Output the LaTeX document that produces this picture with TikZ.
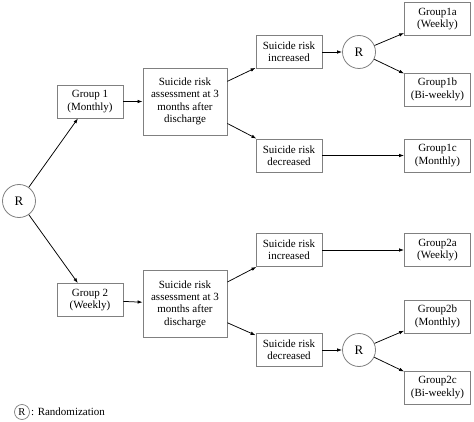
\documentclass[tikz,border=0pt]{standalone}
\usepackage{fontspec}
\setmainfont{Liberation Serif}
\usetikzlibrary{arrows.meta}

\begin{document}
\begin{tikzpicture}[x=1pt,y=-1pt,
        box/.style={draw=gray,line width=0.8pt,align=center,inner sep=0pt,
          font=\fontsize{11}{12.3}\selectfont,minimum width=66pt,minimum height=33pt},
        bigbox/.style={box,minimum width=84pt,minimum height=67pt},
        rand/.style={circle,draw=gray,line width=0.8pt,inner sep=0pt,
          minimum size=33pt,font=\fontsize{13}{15}\selectfont},
        arr/.style={-{Latex[length=5pt,width=3.5pt]},line width=0.75pt}]

        \useasboundingbox (0,0) rectangle (474,422);

        \node[rand] (r1) at (19,201) {R};

        \node[box] (g1) at (90,101.5) {Group 1\\(Monthly)};
        \node[bigbox] (a1) at (185,101.5) {Suicide risk\\assessment at 3\\months after\\discharge};
        \node[box] (inc1) at (289,52) {Suicide risk\\increased};
        \node[box] (dec1) at (289,155.5) {Suicide risk\\decreased};
        \node[rand] (r2) at (359,52) {R};
        \node[box] (g1a) at (437.5,19) {Group1a\\(Weekly)};
        \node[box] (g1b) at (437.5,89.5) {Group1b\\(Bi-weekly)};
        \node[box] (g1c) at (437.5,155.5) {Group1c\\(Monthly)};

        \node[box] (g2) at (90,300) {Group 2\\(Weekly)};
        \node[bigbox] (a2) at (185,304) {Suicide risk\\assessment at 3\\months after\\discharge};
        \node[box] (inc2) at (289,250) {Suicide risk\\increased};
        \node[box] (dec2) at (289,350) {Suicide risk\\decreased};
        \node[rand] (r3) at (359,350) {R};
        \node[box] (g2a) at (437.5,250) {Group2a\\(Weekly)};
        \node[box] (g2b) at (437.5,316.5) {Group2b\\(Monthly)};
        \node[box] (g2c) at (437.5,387.5) {Group2c\\(Bi-weekly)};

        \draw[arr] (r1) -- (g1);
        \draw[arr] (g1) -- (a1);
        \draw[arr] (a1) -- (inc1);
        \draw[arr] (a1) -- (dec1);
        \draw[arr] (inc1) -- (r2);
        \draw[arr] (r2) -- (g1a);
        \draw[arr] (r2) -- (g1b);
        \draw[arr] (dec1) -- (g1c);

        \draw[arr] (r1) -- (g2);
        \draw[arr] (g2) -- (a2);
        \draw[arr] (a2) -- (inc2);
        \draw[arr] (a2) -- (dec2);
        \draw[arr] (inc2) -- (g2a);
        \draw[arr] (dec2) -- (r3);
        \draw[arr] (r3) -- (g2b);
        \draw[arr] (r3) -- (g2c);

        \node[circle,draw=gray,line width=0.7pt,inner sep=0pt,minimum size=15pt,
          font=\fontsize{10.5}{12}\selectfont] (rl) at (22,412) {R};
        \node[anchor=west,inner sep=1pt,font=\fontsize{11}{12.3}\selectfont] (legend) at (rl.east) {: Randomization};

\end{tikzpicture}
\end{document}
